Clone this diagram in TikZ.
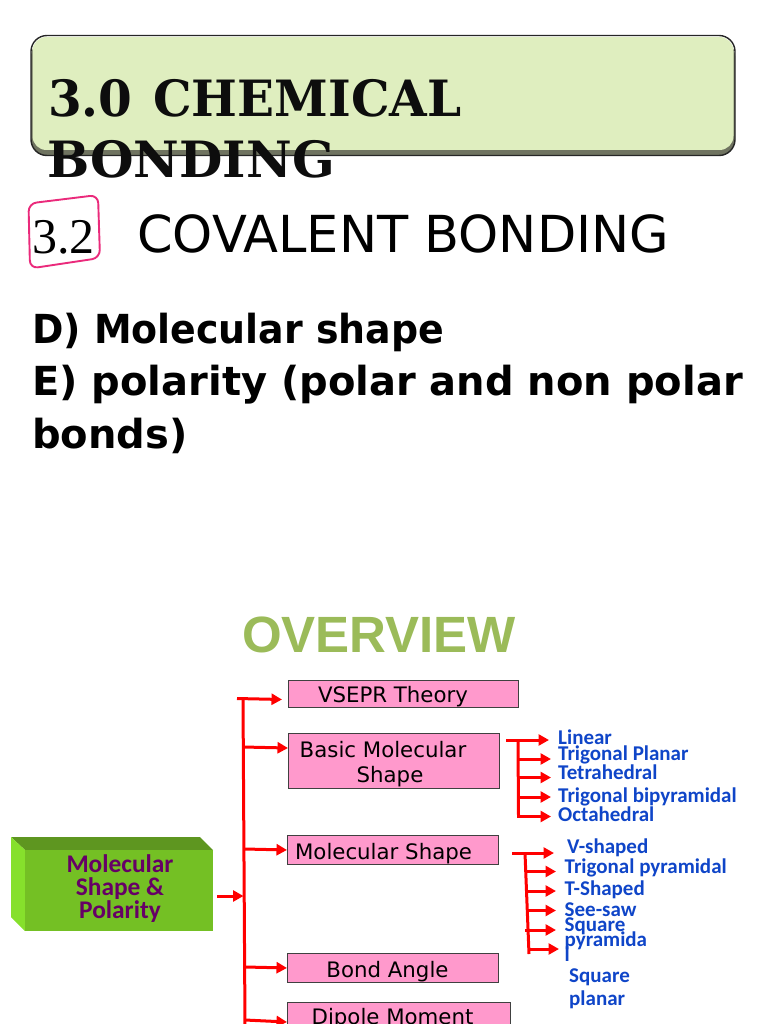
\documentclass[tikz,border=0pt]{standalone}
\usepackage{fontspec}
\setmainfont{DejaVu Sans}
\newfontfamily\serifb{DejaVu Serif}
\newfontfamily\tnr{Liberation Serif}
\newfontfamily\arial{Liberation Sans}
\newfontfamily\carl{Carlito}
\usetikzlibrary{arrows.meta}
\definecolor{titlefill}{HTML}{DFEEBF}
\definecolor{titleshade}{HTML}{6F7360}
\definecolor{magentaline}{HTML}{EA2A7B}
\definecolor{ovgreen}{HTML}{9BBB59}
\definecolor{boxpink}{HTML}{FF99CC}
\definecolor{labblue}{HTML}{0F45C8}
\definecolor{frontg}{HTML}{74C024}
\definecolor{topg}{HTML}{5E9620}
\definecolor{leftg}{HTML}{86E02C}
\definecolor{purp}{HTML}{660066}
\newcommand{\fs}[1]{\fontsize{#1}{#1}\selectfont}
\tikzset{
  pinkbox/.style={draw=black!75,line width=0.9pt,fill=boxpink,inner sep=0pt,anchor=north west,align=center,font=\fs{21.3}},
  boxtext/.style={anchor=base,inner sep=0pt,font=\fs{21.3}},
  redline/.style={draw=red,line width=3pt},
  redarrow/.style={draw=red,line width=3pt,-{Triangle[length=10.5pt,width=11pt]}},
  blab/.style={anchor=base west,inner sep=0pt,text=labblue,font=\carl\bfseries\fs{21}},
}
\begin{document}
\begin{tikzpicture}[x=1pt,y=-1pt]
\useasboundingbox (0,0) rectangle (768,1024);
% title
\fill[titleshade,rounded corners=16pt] (31,40) rectangle (735,156);
\node[draw=black!85,line width=1.4pt,fill=none,minimum width=704pt,minimum height=120pt,rounded corners=16pt,inner sep=0pt] (titlebox) at (383,95.5) {};
\fill[titlefill,rounded corners=14pt] (32.5,37) rectangle (733.5,150);
\node[anchor=base west,inner sep=0pt,text=black!95,font=\serifb\bfseries\fs{50}] (t1) at (48,117) {\scalebox{0.97}[1]{3.0\hspace{0.08em} CHEMICAL}};
\node[anchor=base west,inner sep=0pt,text=black!95,font=\serifb\bfseries\fs{50}] (t2) at (47,178) {BONDING};
% 3.2
\draw[magentaline,line width=1.9pt,rounded corners=8pt] (28.5,203.5) -- (98,195) -- (100,258) -- (30,268.5) -- cycle;
\node[anchor=base west,inner sep=0pt,font=\tnr\fs{50}] (n32) at (32,253) {3.2};
\node[anchor=base west,inner sep=0pt,font=\fs{51}] (cov) at (137,252.5) {COVALENT BONDING};
% bullets
\node[anchor=base west,inner sep=0pt,font=\bfseries\fs{40}] (d1) at (32,343) {\scalebox{0.947}[1]{D) Molecular shape}};
\node[anchor=base west,inner sep=0pt,font=\bfseries\fs{40}] (d2) at (32,395.5) {E) polarity (polar and non polar};
\node[anchor=base west,inner sep=0pt,font=\bfseries\fs{40}] (d3) at (32,448) {bonds)};
% overview
\node[anchor=base,inner sep=0pt,text=ovgreen,font=\arial\bfseries\fs{51}] (ov) at (379,652) {OVERVIEW};
% block
\fill[topg] (11,837) -- (200,837) -- (213,850) -- (25,850) -- cycle;
\fill[leftg] (11,837) -- (25,850) -- (25,931) -- (11,917) -- cycle;
\node[fill=frontg,anchor=north west,minimum width=188pt,minimum height=81pt,inner sep=0pt] (blockf) at (25,850) {};
\node[align=center,inner sep=0pt,text=purp,font=\carl\bfseries\fs{25.4}] (blocktxt) at (120,888.5) {Molecular\\[-2.4pt]Shape \&\\[-2.4pt]Polarity};
% pink boxes
\node[pinkbox,minimum width=230pt,minimum height=27pt] (vsepr) at (288,680) {};
\node[boxtext] (vseprt) at (393,702) {VSEPR Theory};
\node[pinkbox,minimum width=211pt,minimum height=55pt] (basic) at (288,733) {};
\node[boxtext] (basict1) at (383,757) {Basic Molecular};
\node[boxtext] (basict2) at (390,782) {Shape};
\node[pinkbox,minimum width=211pt,minimum height=29pt] (mols) at (287,835) {};
\node[boxtext] (molst) at (383.5,859) {Molecular Shape};
\node[pinkbox,minimum width=211pt,minimum height=29pt] (bond) at (287,953) {};
\node[boxtext] (bondt) at (387.5,977) {Bond Angle};
\node[pinkbox,minimum width=223pt,minimum height=40pt] (dip) at (287,1002) {};
\node[boxtext] (dipt) at (392.5,1024) {Dipole Moment};
% main tree
\coordinate (mtop) at (243,698);
\coordinate (mbot) at (245,1026);
\coordinate (mjoin) at (243.5,896);
\coordinate (basicin) at (288,748);
\coordinate (dipin) at (287,1022);
\draw[redline] (mtop) -- (mbot);
\draw[redarrow] (217,896) -- (mjoin);
\draw[redarrow] (237,698.5) -- (282,699.5);
\draw[redarrow] (243,747) -- (basicin);
\draw[redarrow] (244,849) -- (mols.west);
\draw[redarrow] (245,967) -- (bond.west);
\draw[redarrow] (245,1020) -- (dipin);
% labels 1
\node[blab] (l1) at (558,744) {Linear};
\node[blab] (l2) at (558,760) {Trigonal Planar};
\node[blab] (l3) at (558,779) {Tetrahedral};
\node[blab] (l4) at (558,802) {Trigonal bipyramidal};
\node[blab] (l5) at (558,821) {Octahedral};
\coordinate (a1) at (518,740);
\draw[redline,line join=round] (a1) -- (518.5,816);
\draw[redarrow] (506,740) -- (549,740);
\draw[redarrow] (518,759) -- (551,759);
\draw[redarrow] (518,777.5) -- (551,777.5);
\draw[redarrow] (518,797) -- (551,797);
\draw[redarrow] (517,816.5) -- (551,816.5);
% labels 2
\node[blab] (m1) at (567,853) {V-shaped};
\node[blab] (m2) at (564.5,873) {Trigonal pyramidal};
\node[blab] (m3) at (564.5,895) {T-Shaped};
\node[blab] (m4) at (564.5,916) {See-saw};
\node[blab] (m5) at (564.5,931) {Square};
\node[blab] (m6) at (564.5,946) {pyramida};
\node[blab] (m7) at (564.5,961) {l};
\node[blab] (m8) at (569,982) {Square};
\node[blab] (m9) at (569,1005) {planar};
\coordinate (b1) at (525,853);
\draw[redline] (b1) -- (529,954);
\draw[redarrow] (512,853) -- (554,853);
\draw[redarrow] (526,871.5) -- (556,871.5);
\draw[redarrow] (526,891) -- (556,891);
\draw[redarrow] (526,910.5) -- (556,910.5);
\draw[redarrow] (525,930) -- (556,930);
\draw[redarrow] (528,949) -- (559,949);
\end{tikzpicture}
\end{document}
